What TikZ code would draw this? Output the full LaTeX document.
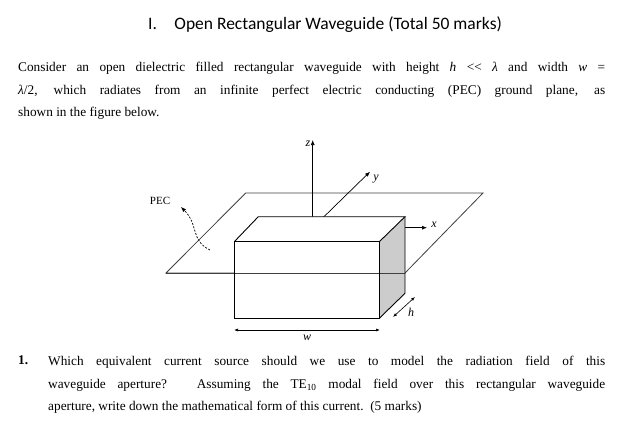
\documentclass[tikz,border=0pt]{standalone}
\usepackage{fontspec}
\setmainfont{Liberation Serif}
\newfontfamily\titlefont{Carlito}
\usetikzlibrary{arrows.meta}
\begin{document}
\begin{tikzpicture}[x=1pt,y=-1pt,
  ln/.style={line width=0.8pt,black!75},
  ar/.style={-{Latex[length=5pt,width=4pt]},line width=0.7pt},
  para/.style={anchor=north west,inner sep=0pt,align=justify,font=\fontsize{13.3}{22.5}\selectfont}]
\useasboundingbox (0,0) rectangle (637,429);
% title
\node[font=\titlefont\fontsize{17.5}{20}\selectfont] (title) at (325,25) {I.\quad Open Rectangular Waveguide (Total 50 marks)};
\node[para,text width=587pt] (intro) at (18,62) {Consider an open dielectric filled rectangular waveguide with height \textit{h} {<}{<} \textit{λ} and width \textit{w} =\linebreak \textit{λ}/2, which radiates from an infinite perfect electric conducting (PEC) ground plane, as\linebreak shown in the figure below.};
% plane
\coordinate (p1) at (245.7,193);
\coordinate (p2) at (483,193);
\coordinate (p3) at (405,273);
\coordinate (p4) at (166,273);
\draw[ln] (p1) -- (p2) -- (p3) -- (p4) -- cycle;
% axes
\coordinate (o) at (312.7,227.7);
\coordinate (zt) at (312.7,140);
\coordinate (yt) at (370,171.7);
\coordinate (xt) at (427,227.7);
\draw[ar] (o) -- (zt);
\draw[ar] (o) -- (yt);
\draw[ar] (o) -- (xt);
\node[font=\itshape\fontsize{12}{12}\selectfont] (zl) at (308,144) {z};
\node[font=\itshape\fontsize{12}{12}\selectfont] (yl) at (376,179) {y};
\node[font=\itshape\fontsize{12}{12}\selectfont] (xl) at (434,225) {x};
% box
\coordinate (a) at (234.3,241.7);
\coordinate (b) at (379.3,241.7);
\coordinate (c) at (379.3,318.3);
\coordinate (d) at (234.3,318.3);
\coordinate (bt) at (258.3,216.7);
\coordinate (ct) at (405,216.7);
\coordinate (cb) at (405,293.3);
\fill[white] (a) -- (bt) -- (ct) -- (b) -- cycle;
\fill[white] (a) rectangle (c);
\fill[black!20] (b) -- (ct) -- (cb) -- (c) -- cycle;
\draw[ln] (p4) -- (p3);
\draw[line width=0.9pt] (a) -- (b) -- (c) -- (d) -- cycle;
\draw[line width=0.9pt] (a) -- (bt) -- (ct) -- (b);
\draw[line width=0.9pt] (ct) -- (cb) -- (c);
% PEC
\node[font=\fontsize{11}{11}\selectfont] (pec) at (160,201) {PEC};
\coordinate (ps) at (210,250);
\draw[ar,dashed,dash pattern=on 2pt off 1.5pt] (ps) .. controls (190,240) and (199,225) .. (181,207);
% dims
\coordinate (wl) at (234,330);
\coordinate (wr) at (380,330);
\draw[{Latex[length=4pt]}-{Latex[length=4pt]},line width=0.6pt] (wl) -- (wr);
\node[font=\itshape\fontsize{12}{12}\selectfont] (wlab) at (307,338) {w};
\coordinate (h1) at (393,317);
\coordinate (h2) at (415,297);
\draw[{Latex[length=4pt]}-{Latex[length=4pt]},line width=0.6pt] (h1) -- (h2);
\node[font=\itshape\fontsize{12}{12}\selectfont] (hlab) at (411,312) {h};
% question
\node[para,anchor=north west] (num) at (18,356) {\textbf{1.}};
\node[para,text width=557pt] (q) at (48,356) {Which equivalent current source should we use to model the radiation field of this\linebreak waveguide aperture? Assuming the TE\textsubscript{10} modal field over this rectangular waveguide\linebreak aperture, write down the mathematical form of this current.\ \ (5 marks)};
\end{tikzpicture}
\end{document}
